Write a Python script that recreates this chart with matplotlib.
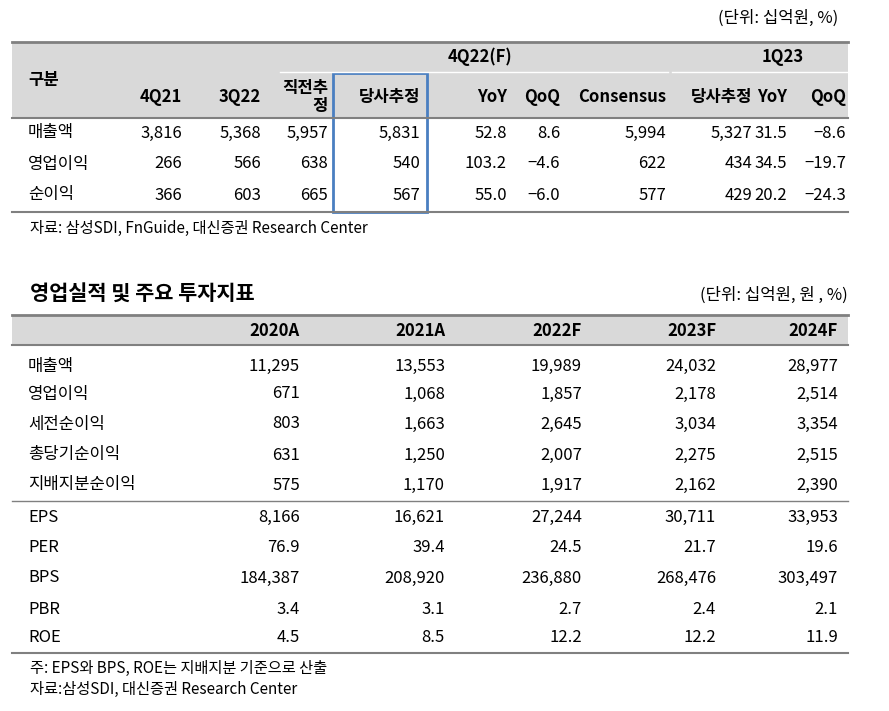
import matplotlib.pyplot as plt
from matplotlib.patches import Rectangle

plt.rcParams['font.family'] = ['Liberation Sans Narrow', 'Noto Sans CJK KR', 'Noto Sans CJK JP',
                               'Noto Sans CJK SC', 'DejaVu Sans']

# top table: quarterly estimates
q_rows = ['매출액', '영업이익', '순이익']
q_cols = ['4Q21', '3Q22', '직전추정', '당사추정', 'YoY', 'QoQ', 'Consensus', '당사추정', 'YoY', 'QoQ']
q_vals = [
    ['3,816', '5,368', '5,957', '5,831', '52.8', '8.6', '5,994', '5,327', '31.5', '-8.6'],
    ['266', '566', '638', '540', '103.2', '-4.6', '622', '434', '34.5', '-19.7'],
    ['366', '603', '665', '567', '55.0', '-6.0', '577', '429', '20.2', '-24.3'],
]

# bottom table: annual figures
y_cols = ['2020A', '2021A', '2022F', '2023F', '2024F']
y_rows = ['매출액', '영업이익', '세전순이익', '총당기순이익', '지배지분순이익',
          'EPS', 'PER', 'BPS', 'PBR', 'ROE']
y_vals = [
    ['11,295', '13,553', '19,989', '24,032', '28,977'],
    ['671', '1,068', '1,857', '2,178', '2,514'],
    ['803', '1,663', '2,645', '3,034', '3,354'],
    ['631', '1,250', '2,007', '2,275', '2,515'],
    ['575', '1,170', '1,917', '2,162', '2,390'],
    ['8,166', '16,621', '27,244', '30,711', '33,953'],
    ['76.9', '39.4', '24.5', '21.7', '19.6'],
    ['184,387', '208,920', '236,880', '268,476', '303,497'],
    ['3.4', '3.1', '2.7', '2.4', '2.1'],
    ['4.5', '8.5', '12.2', '12.2', '11.9'],
]

fig = plt.figure(figsize=(8.89, 7.11), dpi=100)
ax = fig.add_axes([0, 0, 1, 1])
ax.set_xlim(0, 889)
ax.set_ylim(711, 0)
ax.axis('off')

fs = 12
gray = '#d9d9d9'
L, R = 12, 848

def txt(x, y, s, ha='right', **kw):
    ax.text(x, y, s.replace('-', '\u2212'), ha=ha, va='center', fontsize=kw.pop('size', fs), **kw)

# ---- top table ----
txt(838, 18, '(단위: 십억원, %)')
ax.add_patch(Rectangle((L, 42), R - L, 76, color=gray, lw=0))
ax.plot([L, R], [42, 42], color='#808080', lw=2)
ax.plot([L, R], [118, 118], color='#808080', lw=1.5)
ax.plot([L, R], [212, 212], color='#808080', lw=1.5)
ax.plot([280, 668], [72, 72], color='white', lw=1)
ax.plot([672, R], [72, 72], color='white', lw=1)
txt(480, 57, '4Q22(F)', ha='center', fontweight='bold')
txt(783, 57, '1Q23', ha='center', fontweight='bold')
txt(28, 80, '구분', ha='left', fontweight='bold')
q_right = [182, 261, 328, 420, 507, 560, 666, 752, 787, 846]
for i, c in enumerate(q_cols):
    if i == 2:
        txt(q_right[i], 88, '직전추', fontweight='bold')
        txt(q_right[i], 106, '정', fontweight='bold')
    else:
        txt(q_right[i], 97, c, fontweight='bold')
q_y = [133, 164, 195]
for r, name in enumerate(q_rows):
    txt(28, q_y[r], name, ha='left')
    for i, v in enumerate(q_vals[r]):
        txt(q_right[i], q_y[r], v)
ax.add_patch(Rectangle((333, 73), 94, 139, fill=False, ec='#4a7fc1', lw=2))
txt(30, 228, '자료: 삼성SDI, FnGuide, 대신증권 Research Center', ha='left', size=11)

# ---- bottom table ----
txt(30, 293, '영업실적 및 주요 투자지표', ha='left', size=15, fontweight='bold')
txt(848, 295, '(단위: 십억원, 원 , %)')
ax.add_patch(Rectangle((L, 315), R - L, 30, color=gray, lw=0))
ax.plot([L, R], [315, 315], color='#808080', lw=2)
ax.plot([L, R], [345, 345], color='#808080', lw=1.5)
ax.plot([L, R], [501, 501], color='#808080', lw=1)
ax.plot([L, R], [653, 653], color='#808080', lw=1.5)
y_right = [300, 445, 582, 716, 838]
for i, c in enumerate(y_cols):
    txt(y_right[i], 331, c, fontweight='bold')
y_y = [366, 394, 424, 455, 485, 517, 548, 578, 609, 638]
for r, name in enumerate(y_rows):
    txt(28, y_y[r], name, ha='left')
    for i, v in enumerate(y_vals[r]):
        txt(y_right[i], y_y[r], v)
txt(30, 668, '주: EPS와 BPS, ROE는 지배지분 기준으로 산출', ha='left', size=11)
txt(30, 689, '자료:삼성SDI, 대신증권 Research Center', ha='left', size=11)

fig.savefig('out.png', dpi=100)
